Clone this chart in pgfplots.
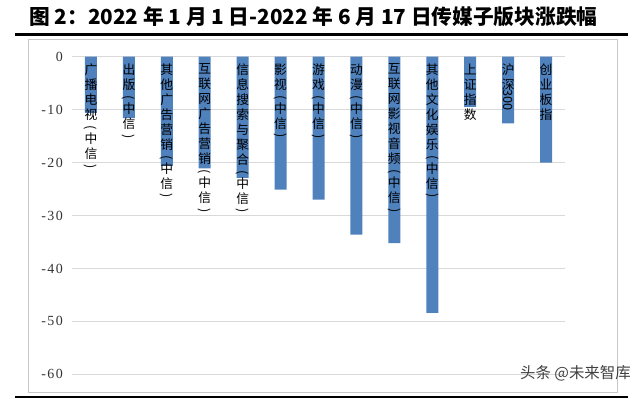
\documentclass[border=0pt]{standalone}
\usepackage{fontspec}
\usepackage{graphicx}
\usepackage{pgfplots}
\pgfplotsset{compat=1.18}
\setmainfont{Liberation Serif}
\newfontfamily\cjk{Noto Sans CJK SC}
\newfontfamily\tickfont[LetterSpace=10]{Liberation Serif}
\definecolor{barblue}{HTML}{4F81BD}
\definecolor{gridgray}{HTML}{D9D9D9}
\definecolor{framegray}{HTML}{C8C8C8}
\newcommand{\lp}{\rotatebox[origin=c]{-90}{(}}
\newcommand{\rp}{\rotatebox[origin=c]{-90}{)}}
\newcommand{\zx}{\\[-3bp]\lp\\[-3bp]中\\信\\[-3bp]\rp}
\pgfplotsset{
  layers/labelsontop/.define layer set={
    axis background,axis grid,axis ticks,axis lines,pre main,main,axis tick labels,axis descriptions,axis foreground
  }{/pgfplots/layers/standard},
}
\begin{document}
\begin{tikzpicture}[x=1bp,y=1bp]
% title
\node[anchor=west,inner sep=0,font=\cjk\bfseries\fontsize{20.8}{24}\selectfont] at (29,-17)
  {图 2：2022 年 1 月 1 日-2022 年 6 月 17 日传媒子版块涨跌幅};
\draw[black,line width=3bp] (15,-34) -- (628,-34);
\draw[framegray,line width=0.9bp] (28,-39) rectangle (617,-392);
\draw[black,line width=2bp] (15,-397) -- (628,-397);
\begin{axis}[
  set layers=labelsontop,
  at={(72bp,-56.7bp)}, anchor=north west,
  scale only axis, width=493bp, height=317.6bp,
  xmin=-0.5, xmax=12.5, ymin=-60, ymax=0,
  axis line style={draw=none},
  ytick={0,-10,-20,-30,-40,-50,-60},
  yticklabels={0,-10,-20,-30,-40,-50,-60},
  ymajorgrids, grid style={gridgray,line width=0.9bp},
  ytick style={draw=none},
  yticklabel style={anchor=east,inner sep=0,xshift=-9bp,font=\tickfont\fontsize{14}{16}\selectfont,text=black!80},
  xtick={0,...,12},
  xtick style={draw=none},
  xticklabel pos=upper,
  xticklabel style={anchor=north,inner sep=0,yshift=-7bp,align=center,font=\cjk\fontsize{12.8}{15}\selectfont,text=black},
  xticklabels={
    {广\\播\\电\\视\zx},
    {出\\版\zx},
    {其\\他\\广\\告\\营\\销\zx},
    {互\\联\\网\\广\\告\\营\\销\zx},
    {信\\息\\搜\\索\\与\\聚\\合\zx},
    {影\\视\zx},
    {游\\戏\zx},
    {动\\漫\zx},
    {互\\联\\网\\影\\视\\音\\频\zx},
    {其\\他\\文\\化\\娱\\乐\zx},
    {上\\证\\指\\数},
    {沪\\深\\[-2bp]\rotatebox[origin=c]{-90}{300}},
    {创\\业\\板\\指}
  },
  clip=false,
]
\addplot[ybar, bar width=12bp, bar shift=0pt, fill=barblue, draw=none] coordinates {
  (0,-10.6) (1,-11.6) (2,-20.6) (3,-21.1) (4,-22.9) (5,-25.1) (6,-27.0)
  (7,-33.6) (8,-35.2) (9,-48.4) (10,-9.5) (11,-12.6) (12,-20.0)
};
\end{axis}
\node[anchor=east,inner sep=0,font=\cjk\fontsize{15.5}{18}\selectfont,text=black!75] at (631,-373) {头条 @未来智库};
\pgfresetboundingbox
\path[use as bounding box] (0,0) rectangle (640,-398);
\end{tikzpicture}
\end{document}
